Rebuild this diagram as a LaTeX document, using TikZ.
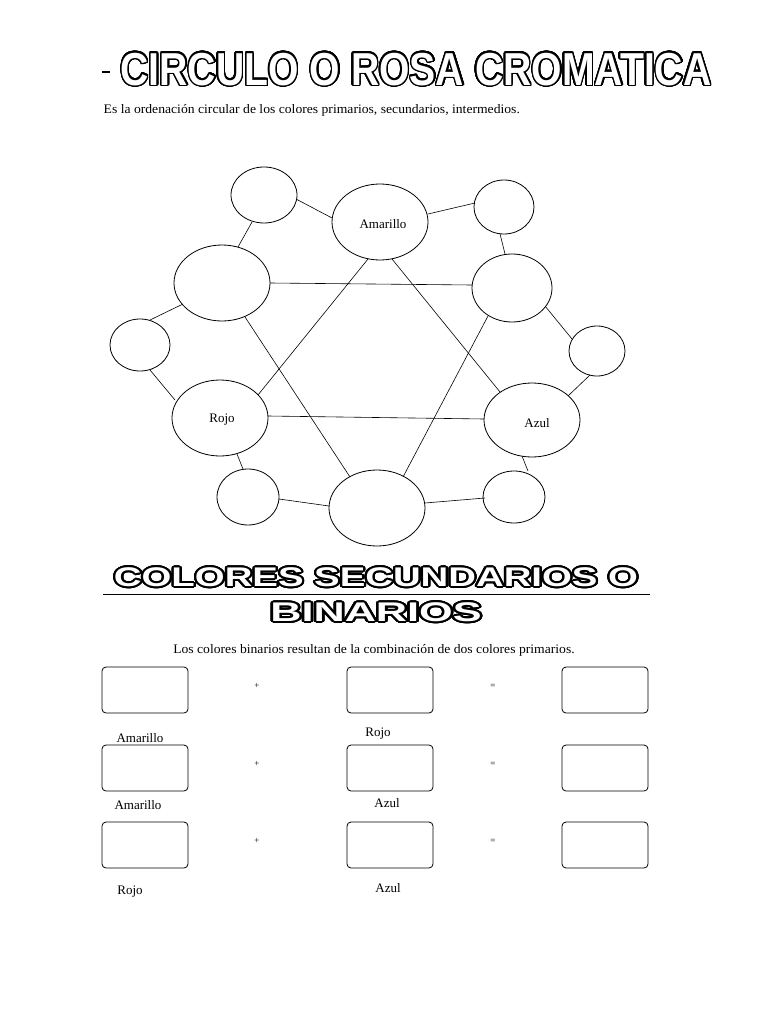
\documentclass[tikz,border=0pt]{standalone}
\usepackage{fontspec}
\setmainfont{Liberation Serif}
\newfontfamily\titlefont{Liberation Sans}
\usepackage{contour}
\contournumber{32}
\contourlength{1.6pt}
\begin{document}
\begin{tikzpicture}[x=1pt,y=-1pt,
  bx/.style={draw,rounded corners=4pt,line width=0.8pt,minimum width=86pt,minimum height=46pt},
  lbl/.style={font=\fontsize{13}{15}\selectfont},
  ln/.style={line width=0.6pt}]
\useasboundingbox (0,0) rectangle (768,1024);
\fill[white] (0,0) rectangle (768,1024);
\node[font=\titlefont\bfseries\fontsize{44}{48}\selectfont,xscale=0.89,yscale=1.05] (t1) at (416,70) {\contour{black}{\textcolor{white}{CIRCULO O ROSA CROMATICA}}};
\draw[line width=1.5pt] (102,72) -- (110,72);
\node[lbl,anchor=west,xscale=1.05] (s1) at (100,110) {Es la ordenación circular de los colores primarios, secundarios, intermedios.};
\newcommand\myell[5]{\draw[line width=0.8pt] (#2,#3) ellipse [x radius=#4,y radius=#5]; \coordinate (#1) at (#2,#3);}
\myell{am}{380}{222}{48}{38}
\myell{tl}{264}{195}{33}{28}
\myell{tr}{504}{207}{30}{27}
\myell{lb}{222}{283}{48}{38}
\myell{rb}{512}{288}{40}{34}
\myell{fl}{140}{345}{30}{26}
\myell{fr}{597}{351}{28}{25}
\myell{ro}{220}{418}{48}{38}
\myell{az}{532}{420}{48}{37}
\myell{bl}{248}{497}{31}{28}
\myell{bo}{377}{508}{48}{38}
\myell{br}{514}{497}{31}{26}
\node[lbl] (tam) at (383,224) {Amarillo};
\node[lbl] (tro) at (222,420) {Rojo};
\node[lbl] (taz) at (537,423) {Azul};
\begin{scope}[ln]
\draw (296,199) -- (332,218); \draw (428,214) -- (475,203);
\draw (500,234) -- (505,254); \draw (545,306) -- (572,339);
\draw (590,375) -- (568,396); \draw (522,456) -- (528,471);
\draw (485,498) -- (425,503); \draw (329,506) -- (279,499);
\draw (243,469) -- (237,454); \draw (175,400) -- (150,370);
\draw (150,320) -- (183,304); \draw (238,247) -- (252,222);
\draw (368,259) -- (258,395); \draw (392,259) -- (500,392);
\draw (268,416) -- (484,419);
\draw (270,283) -- (472,285);
\draw (245,317) -- (350,477); \draw (488,316) -- (403,477);
\end{scope}
\node[font=\titlefont\bfseries\fontsize{27}{30}\selectfont,xscale=1.42] (t2) at (376,578) {\contour{black}{\textcolor{white}{COLORES SECUNDARIOS O}}};
\draw[line width=1pt] (103,594) -- (650,594);
\node[font=\titlefont\bfseries\fontsize{27}{30}\selectfont,xscale=1.6] (t3) at (376,613) {\contour{black}{\textcolor{white}{BINARIOS}}};
\node[lbl,xscale=1.05] (s2) at (374,650) {Los colores binarios resultan de la combinación de dos colores primarios.};
\foreach \r/\y in {1/690,2/768,3/845}{
  \node[bx] (a\r) at (145,\y) {};
  \node[bx] (b\r) at (390,\y) {};
  \node[bx] (c\r) at (605,\y) {};
  \node[font=\small] (p\r) at (257,\y-4) {+};
  \node[font=\small] (q\r) at (493,\y-4) {=};
}
\node[lbl] (l1) at (140,738) {Amarillo};
\node[lbl] (l2) at (378,734) {Rojo};
\node[lbl] (l3) at (138,805) {Amarillo};
\node[lbl] (l4) at (387,803) {Azul};
\node[lbl] (l5) at (130,892) {Rojo};
\node[lbl] (l6) at (388,888) {Azul};
\end{tikzpicture}
\end{document}
